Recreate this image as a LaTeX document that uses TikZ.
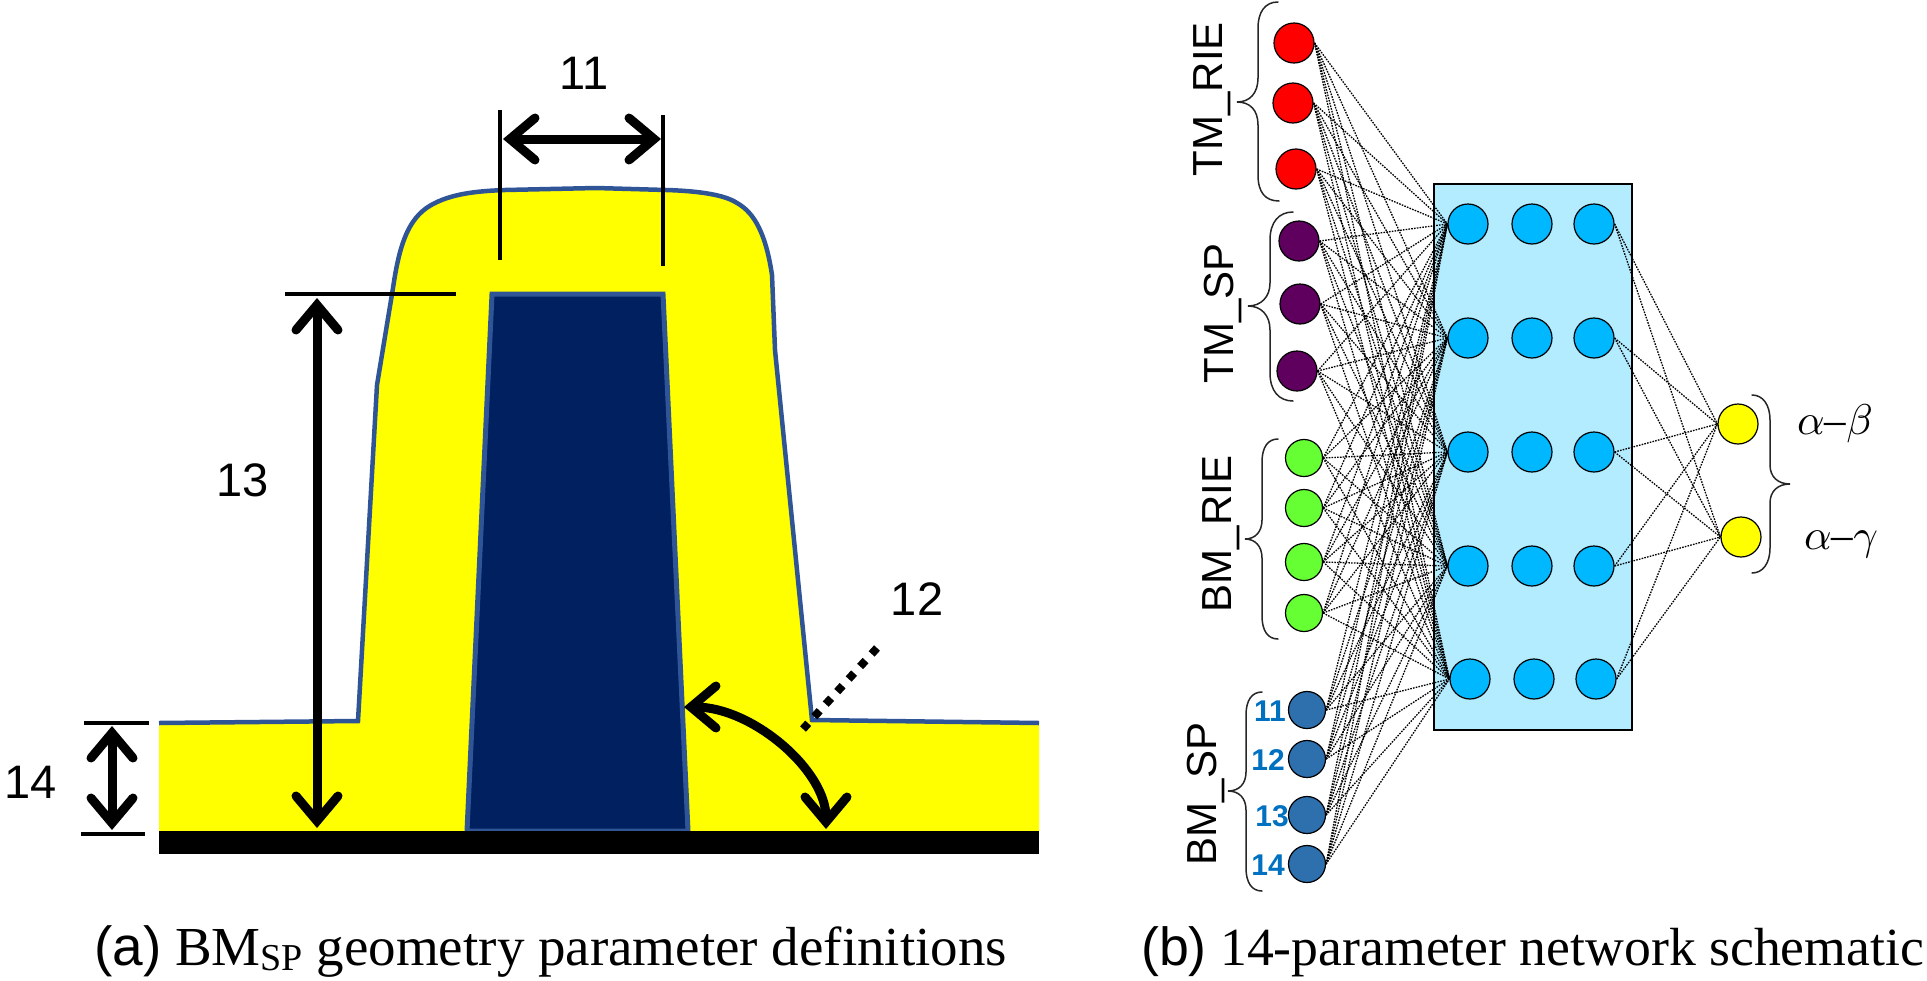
\documentclass[tikz,border=0pt]{standalone}
\usepackage{fontspec}
\setmainfont{Liberation Serif}
\newfontfamily\arialf{Liberation Sans}
\usetikzlibrary{arrows.meta,decorations.pathreplacing}
\definecolor{outl}{HTML}{2F5597}
\definecolor{navy}{HTML}{002060}
\definecolor{boxfill}{HTML}{B3EBFF}
\definecolor{hid}{HTML}{00B8FF}
\definecolor{redn}{HTML}{FF0000}
\definecolor{purn}{HTML}{5F005F}
\definecolor{grnn}{HTML}{66FF33}
\definecolor{blun}{HTML}{2E6FAE}
\definecolor{numc}{HTML}{0070C0}
\definecolor{yel}{HTML}{FFFF00}
\tikzset{
  x=1pt,y=-1pt,
  dimline/.style={line width=3.8pt,black},
  dimarrow/.style={line width=9pt,black,{Straight Barb[length=25pt,width=42pt,line cap=round]}-{Straight Barb[length=25pt,width=42pt,line cap=round]}},
  lab/.style={font=\arialf\fontsize{47}{52}\selectfont,inner sep=0pt},
  grp/.style={font=\arialf\fontsize{42}{46}\selectfont,rotate=90,inner sep=0pt},
  num/.style={font=\arialf\bfseries\fontsize{30}{32}\selectfont,text=numc,inner sep=0pt},
  neuron/.style={circle,draw=black,line width=1.2pt,inner sep=0pt,minimum size=#1},
  link/.style={black,line width=1.3pt,dash pattern=on 1.6pt off 1.2pt},
  brace/.style={draw=black!85,line width=1.5pt,line cap=round},
  capt/.style={font=\fontsize{55}{60}\selectfont,inner sep=0pt,anchor=base west},
}
\begin{document}
\begin{tikzpicture}
\useasboundingbox (0,0) rectangle (1927,980);
% ---------- panel (a)
\fill[yel] (159,723) -- (358,721) -- (377,385) -- (393,288) .. controls (400,240) and (410,215) .. (435,203)
  .. controls (455,193) and (480,191) .. (505,190) -- (596,188) -- (666,190)
  .. controls (700,191) and (725,195) .. (737,203) .. controls (755,213) and (766,235) .. (772,275)
  -- (775,350) -- (812,720) -- (1039,723) -- (1039,835) -- (159,835) -- cycle;
\draw[outl,line width=4.5pt] (159,723) -- (358,721) -- (377,385) -- (393,288) .. controls (400,240) and (410,215) .. (435,203)
  .. controls (455,193) and (480,191) .. (505,190) -- (596,188) -- (666,190)
  .. controls (700,191) and (725,195) .. (737,203) .. controls (755,213) and (766,235) .. (772,275)
  -- (775,350) -- (812,720) -- (1039,723);
\filldraw[fill=navy,draw=outl,line width=5pt,line join=miter] (467,831) -- (492,294) -- (663,294) -- (688,831) -- cycle;
\fill[black] (159,831) rectangle (1039,854);
\coordinate (d11a) at (500,110); \coordinate (d11b) at (500,260);
\coordinate (d11c) at (663,115); \coordinate (d11d) at (663,266);
\coordinate (d13a) at (285,294); \coordinate (d13b) at (456,294);
\coordinate (d14a) at (84,723);  \coordinate (d14b) at (149,723);
\coordinate (d14c) at (81,834);  \coordinate (d14d) at (145,834);
\draw[dimline] (d11a) -- (d11b);
\draw[dimline] (d11c) -- (d11d);
\draw[dimline] (d13a) -- (d13b);
\draw[dimline] (d14a) -- (d14b);
\draw[dimline] (d14c) -- (d14d);
\coordinate (a11l) at (503,139); \coordinate (a11r) at (661,139);
\coordinate (a13t) at (317,298); \coordinate (a13b) at (317,828);
\coordinate (a14t) at (112,726); \coordinate (a14b) at (112,830);
\coordinate (a12t) at (684,707); \coordinate (a12b) at (826,829);
\draw[dimarrow] (a11l) -- (a11r);
\draw[dimarrow] (a13t) -- (a13b);
\draw[dimarrow] (a14t) -- (a14b);
\draw[dimarrow] (a12t) .. controls (752,707) and (826,770) .. (a12b);
\coordinate (dot1) at (877,648); \coordinate (dot2) at (803,729);
\draw[black,line width=8pt,dash pattern=on 8pt off 9pt] (dot1) -- (dot2);
\node[lab] (l11) at (584,73) {11};
\node[lab] (l12) at (917,599) {12};
\node[lab] (l13) at (243,480) {13};
\node[lab] (l14) at (31,782) {14};
\node[capt] (capa) at (94,965) {{\arialf (a)} BM\raisebox{-.2ex}{\fontsize{38}{38}\selectfont SP} geometry parameter definitions};
% ---------- panel (b)
\node[draw=black,line width=1.4pt,fill=boxfill,inner sep=0pt,minimum width=198pt,minimum height=546pt] (hbox) at (1533,457) {};
% nodes
\foreach \n/\px/\py in {r1/1294/43,r2/1293/103,r3/1296/169}
  \node[neuron=40pt,fill=redn] (\n) at (\px,\py) {};
\foreach \n/\px/\py in {p1/1299/241,p2/1300/304,p3/1297/371}
  \node[neuron=40pt,fill=purn] (\n) at (\px,\py) {};
\foreach \n/\px/\py in {g1/1304/458,g2/1304/508,g3/1304/562,g4/1304/613}
  \node[neuron=37pt,fill=grnn] (\n) at (\px,\py) {};
\foreach \n/\px/\py in {b1/1307/710,b2/1307/759,b3/1307/815,b4/1307/864}
  \node[neuron=37pt,fill=blun] (\n) at (\px,\py) {};
\foreach \i/\py/\dx in {1/224/0,2/338/0,3/452/0,4/566/0,5/679/2}{
  \node[neuron=40pt,fill=hid] (ha\i) at (1468+\dx,\py) {};
  \node[neuron=40pt,fill=hid] (hb\i) at (1532+\dx,\py) {};
  \node[neuron=40pt,fill=hid] (hc\i) at (1594+\dx,\py) {};
}
\node[neuron=40pt,fill=yel] (o1) at (1738,424) {};
\node[neuron=40pt,fill=yel] (o2) at (1741,537) {};
% connectors
\foreach \s in {r1,r2,r3,p1,p2,p3,g1,g2,g3,g4,b1,b2,b3,b4}
  \foreach \t in {ha1,ha2,ha3,ha4,ha5}
    \draw[link] (\s.east) -- (\t.west);
\foreach \s in {hc1,hc2,hc3,hc4,hc5}
  \foreach \t in {o1,o2}
    \draw[link] (\s.east) -- (\t.west);
% braces
\coordinate (brA1) at (1278,2);  \coordinate (brA2) at (1237,102); \coordinate (brA3) at (1279,201);
\draw[brace] (brA1) .. controls (1265,2) and (1258,12) .. (1258,28) -- (1258,78) .. controls (1258,93) and (1250,102) .. (brA2)
  .. controls (1250,102) and (1258,110) .. (1258,125) -- (1258,175) .. controls (1258,192) and (1265,201) .. (brA3);
\coordinate (brB1) at (1293,212); \coordinate (brB2) at (1248,306); \coordinate (brB3) at (1293,401);
\draw[brace] (brB1) .. controls (1279,212) and (1270,222) .. (1270,240) -- (1270,283) .. controls (1270,297) and (1261,306) .. (brB2)
  .. controls (1261,306) and (1270,315) .. (1270,330) -- (1270,373) .. controls (1270,391) and (1279,401) .. (brB3);
\coordinate (brC1) at (1278,439); \coordinate (brC2) at (1245,539); \coordinate (brC3) at (1278,639);
\draw[brace] (brC1) .. controls (1268,439) and (1262,447) .. (1262,462) -- (1262,520) .. controls (1262,532) and (1255,539) .. (brC2)
  .. controls (1255,539) and (1262,546) .. (1262,558) -- (1262,616) .. controls (1262,631) and (1268,639) .. (brC3);
\coordinate (brD1) at (1262,692); \coordinate (brD2) at (1228,791); \coordinate (brD3) at (1262,891);
\draw[brace] (brD1) .. controls (1252,692) and (1246,700) .. (1246,715) -- (1246,772) .. controls (1246,784) and (1239,791) .. (brD2)
  .. controls (1239,791) and (1246,798) .. (1246,810) -- (1246,868) .. controls (1246,883) and (1252,891) .. (brD3);
\coordinate (brE1) at (1752,395); \coordinate (brE2) at (1790,484); \coordinate (brE3) at (1752,573);
\draw[brace] (brE1) .. controls (1763,395) and (1770,405) .. (1770,420) -- (1770,465) .. controls (1770,477) and (1778,484) .. (brE2)
  .. controls (1778,484) and (1770,491) .. (1770,503) -- (1770,548) .. controls (1770,563) and (1763,573) .. (brE3);
% labels
\node[grp] (t1) at (1212,99) {TM\_RIE};
\node[grp] (t2) at (1223,313) {TM\_SP};
\node[grp] (t3) at (1221,534) {BM\_RIE};
\node[grp] (t4) at (1206,794) {BM\_SP};
\node[num] (n11) at (1270,711) {11};
\node[num] (n12) at (1268,760) {12};
\node[num] (n13) at (1272,816) {13};
\node[num] (n14) at (1268,865) {14};
\node[scale=4.3,inner sep=0pt] (oa) at (1835,424) {$\alpha$\textendash$\beta$};
\node[scale=4.3,inner sep=0pt] (ob) at (1841,544) {$\alpha$\textendash$\gamma$};
\node[capt,font=\fontsize{53.7}{60}\selectfont] (capb) at (1141,965) {{\arialf (b)} 14-parameter network schematic};
\end{tikzpicture}
\end{document}
